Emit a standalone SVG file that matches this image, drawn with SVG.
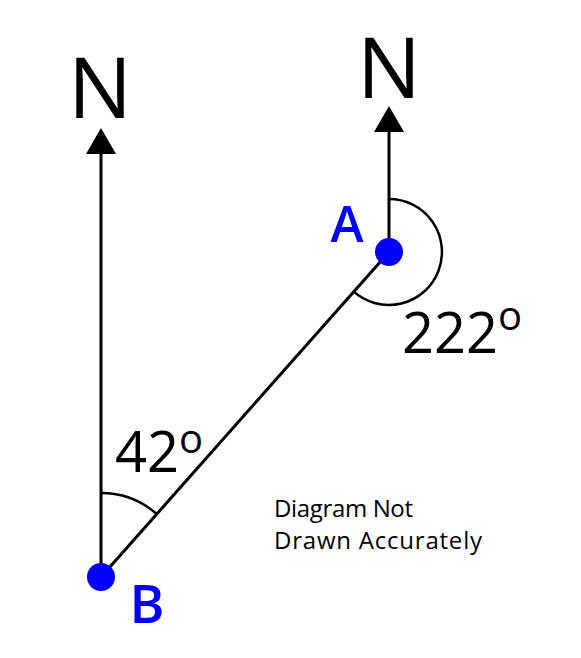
<svg xmlns="http://www.w3.org/2000/svg" width="581" height="658" viewBox="0 0 581 658">
<style>
.ln{stroke:#000;stroke-width:3;fill:none}
.arc{stroke:#000;stroke-width:2.5;fill:none}
.dot{fill:#0000ff}
.t{font-family:"Open Sans","Noto Sans","Liberation Sans",sans-serif;fill:#000}
.n{font-size:85px;text-anchor:middle}
.pt{font-size:50px;font-weight:600;fill:#0000ff;text-anchor:middle}
.ang{font-size:56px}
.sup{font-size:40px}
.note{font-size:24px}
</style>
<defs>
<marker id="ah" markerUnits="userSpaceOnUse" viewBox="0 -15 26 30" refX="0" refY="0" markerWidth="26" markerHeight="30" orient="auto">
<path d="M0,-15 L26,0 L0,15 Z" fill="#000"/>
</marker>
</defs>
<g id="connectors">
<line class="ln" x1="101" y1="577" x2="101" y2="154" marker-end="url(#ah)"/>
<line class="ln" x1="389" y1="252" x2="389" y2="132" marker-end="url(#ah)"/>
<line class="ln" x1="101" y1="577" x2="389" y2="252"/>
<path class="arc" d="M389,199 A53,53 0 1 1 353.5,291.4"/>
<path class="arc" d="M101,493 A84,84 0 0 1 156.7,514"/>
</g>
<g id="north-B"><text class="t n" x="100" y="118">N</text></g>
<g id="north-A"><text class="t n" x="389" y="98">N</text></g>
<g id="node-A">
<circle class="dot" cx="389" cy="252" r="14"/>
<text class="t pt" x="347" y="242">A</text>
</g>
<g id="node-B">
<circle class="dot" cx="101" cy="577" r="14"/>
<text class="t pt" x="147" y="623" style="font-size:53px">B</text>
</g>
<g id="angle-222"><text class="t ang" x="402" y="353">222<tspan class="sup" dy="-23">o</tspan></text></g>
<g id="angle-42"><text class="t ang" x="115" y="472">42<tspan class="sup" dy="-19">o</tspan></text></g>
<g id="note">
<text class="t note" x="274" y="517" textLength="139" lengthAdjust="spacing">Diagram Not</text>
<text class="t note" x="274" y="549" textLength="208" lengthAdjust="spacing">Drawn Accurately</text>
</g>
</svg>
